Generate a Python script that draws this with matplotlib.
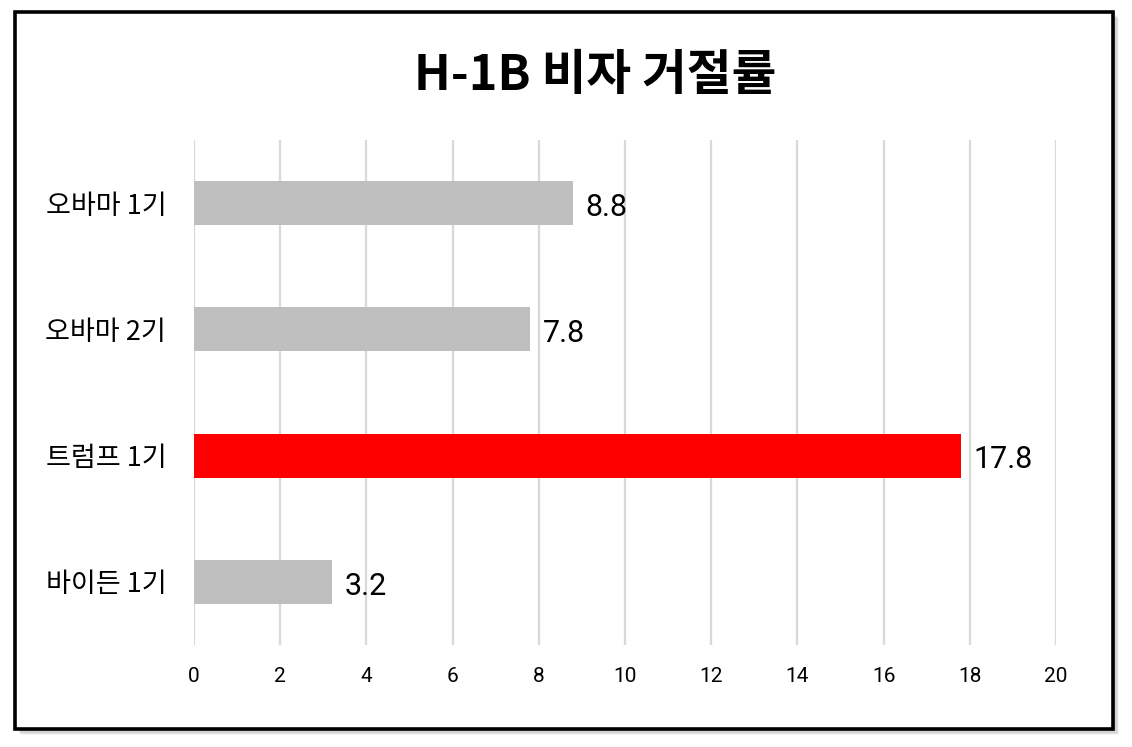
import matplotlib
matplotlib.use("Agg")
import matplotlib.pyplot as plt
from matplotlib.patches import Rectangle

# 데이터
terms = ["오바마 1기", "오바마 2기", "트럼프 1기", "바이든 1기"]
rates = [8.8, 7.8, 17.8, 3.2]
bar_colors = ["#bfbfbf", "#bfbfbf", "#ff0000", "#bfbfbf"]
x_ticks = [0, 2, 4, 6, 8, 10, 12, 14, 16, 18, 20]

W, H = 1132, 747
fig = plt.figure(figsize=(W / 100, H / 100), dpi=100)
fig.patch.set_facecolor("white")

# 테두리 + 그림자
def fig_rect(x0, y0, x1, y1, **kw):
    return Rectangle((x0 / W, 1 - y1 / H), (x1 - x0) / W, (y1 - y0) / H,
                     transform=fig.transFigure, **kw)

for i, a in enumerate([0.10, 0.14, 0.20, 0.28]):
    off = 6 - i * 1.2
    fig.patches.append(fig_rect(15 + off, 12 + off, 1113 + off, 729 + off,
                                facecolor=(0.55, 0.55, 0.55, a), edgecolor="none", zorder=0))
fig.patches.append(fig_rect(15, 12, 1113, 729, facecolor="white", edgecolor="black",
                            linewidth=2.6, zorder=1))

ax = fig.add_axes([194 / W, 1 - 645 / H, (1056 - 194) / W, (645 - 140) / H])
ax.set_facecolor("none")
ax.set_zorder(2)

ypos = list(range(len(terms)))
ax.barh(ypos, rates, height=0.35, color=bar_colors, zorder=3)
ax.set_ylim(len(terms) - 0.5, -0.5)
ax.set_xlim(0, 20)

for y, v in zip(ypos, rates):
    ax.annotate(f"{v}", (v, y), xytext=(9, -3), textcoords="offset points",
                va="center", ha="left", fontsize=22, family=["Roboto", "DejaVu Sans"],
                color="#000000")

ax.set_xticks(x_ticks)
ax.set_xticklabels([str(t) for t in x_ticks], family=["Roboto", "DejaVu Sans"], fontsize=15)
ax.set_yticks(ypos)
ax.set_yticklabels(terms, family=["Noto Sans CJK KR", "DejaVu Sans"], fontsize=19.5)
ax.tick_params(axis="both", length=0)
ax.tick_params(axis="x", pad=16)
ax.tick_params(axis="y", pad=20)

ax.grid(axis="x", color="#d9d9d9", linewidth=1.6, zorder=0)
ax.set_axisbelow(True)
for s in ax.spines.values():
    s.set_visible(False)

fig.text(595 / W, 1 - 75 / H, "H-1B 비자 거절률", ha="center", va="center",
         fontsize=35, fontweight="bold", family=["Noto Sans CJK KR", "DejaVu Sans"],
         zorder=5)

fig.savefig("out.png", dpi=100)
